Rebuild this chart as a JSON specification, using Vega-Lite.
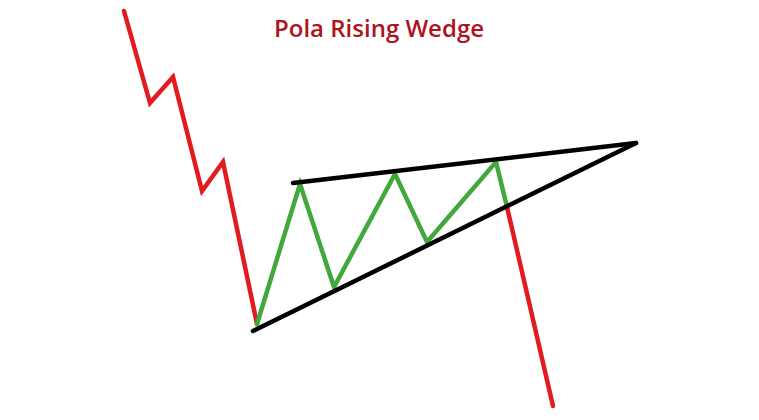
{
  "$schema": "https://vega.github.io/schema/vega-lite/v6.json",
  "width": 759,
  "height": 420,
  "autosize": {"type": "fit", "contains": "padding"},
  "padding": 0,
  "background": "white",
  "view": {"stroke": null},
  "datasets": {
    "lines": [
      {"series": "red1", "o": 1, "x": 124, "y": 11},
      {"series": "red1", "o": 2, "x": 150, "y": 103},
      {"series": "red1", "o": 3, "x": 173, "y": 77},
      {"series": "red1", "o": 4, "x": 202, "y": 191},
      {"series": "red1", "o": 5, "x": 223, "y": 162},
      {"series": "red1", "o": 6, "x": 257, "y": 324},
      {"series": "green", "o": 1, "x": 257, "y": 324},
      {"series": "green", "o": 2, "x": 300, "y": 184},
      {"series": "green", "o": 3, "x": 334, "y": 287},
      {"series": "green", "o": 4, "x": 395, "y": 174},
      {"series": "green", "o": 5, "x": 427, "y": 242},
      {"series": "green", "o": 6, "x": 496, "y": 162},
      {"series": "green", "o": 7, "x": 507, "y": 207},
      {"series": "red2", "o": 1, "x": 507, "y": 207},
      {"series": "red2", "o": 2, "x": 553, "y": 406},
      {"series": "upper", "o": 1, "x": 293, "y": 183},
      {"series": "upper", "o": 2, "x": 636, "y": 143},
      {"series": "lower", "o": 1, "x": 253, "y": 331},
      {"series": "lower", "o": 2, "x": 636, "y": 143}
    ],
    "title": [
      {"label": "Pola Rising Wedge", "x": 379, "y": 30}
    ]
  },
  "layer": [
    {
      "data": {"name": "lines"},
      "mark": {"type": "line", "strokeWidth": 4.5, "strokeCap": "round", "strokeJoin": "miter"},
      "encoding": {
        "x": {"field": "x", "type": "quantitative", "scale": {"domain": [0, 759], "nice": false, "zero": false}, "axis": null},
        "y": {"field": "y", "type": "quantitative", "scale": {"domain": [0, 420], "nice": false, "zero": false, "reverse": true}, "axis": null},
        "detail": {"field": "series"},
        "order": {"field": "o"},
        "color": {
          "field": "series",
          "type": "nominal",
          "scale": {"domain": ["red1", "red2", "green", "upper", "lower"], "range": ["#e11b1f", "#e11b1f", "#41a83b", "#000000", "#000000"]},
          "legend": null
        }
      }
    },
    {
      "data": {"name": "title"},
      "mark": {"type": "text", "font": "Open Sans", "fontSize": 24, "fontWeight": 600, "color": "#ad1320", "align": "center", "baseline": "middle"},
      "encoding": {
        "x": {"field": "x", "type": "quantitative"},
        "y": {"field": "y", "type": "quantitative"},
        "text": {"field": "label"}
      }
    }
  ]
}
